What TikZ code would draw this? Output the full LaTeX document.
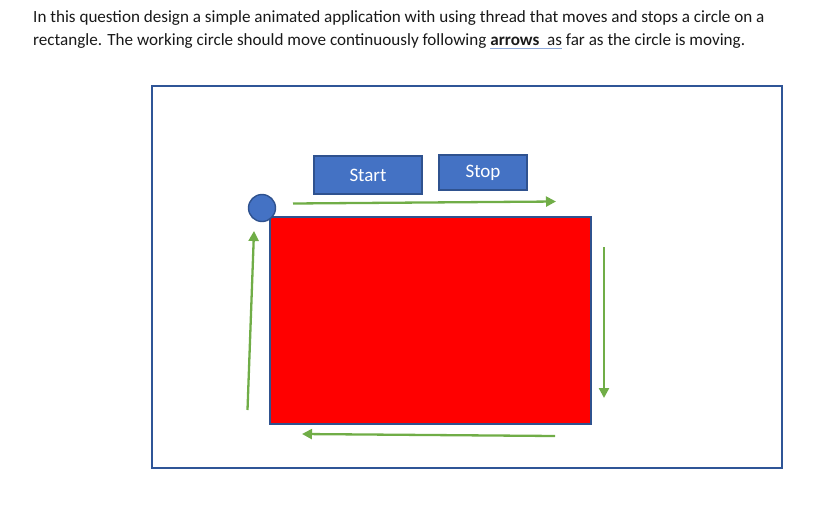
\documentclass[tikz,border=0pt]{standalone}
\usepackage{fontspec}
\setmainfont{Carlito}
\usetikzlibrary{arrows.meta}
\definecolor{frameblue}{HTML}{2F5597}
\definecolor{btnfill}{HTML}{4472C4}
\definecolor{btnedge}{HTML}{2F528F}
\definecolor{arrowgreen}{HTML}{70AD47}
\definecolor{ulblue}{HTML}{8EA9DB}
\newcommand\blueul[1]{\setbox0\hbox{#1}\rlap{\color{ulblue}\vrule width\wd0 height -2.6pt depth 4.4pt}\box0\relax}
\tikzset{
  headtext/.style={anchor=base west, inner sep=0pt, font=\fontsize{17.1}{20}\selectfont, text=black!90},
  button/.style={draw=btnedge, line width=1.4pt, fill=btnfill, text=white, font=\fontsize{19}{22}\selectfont, inner sep=0pt},
  flow/.style={draw=arrowgreen, line width=2.3pt, -{Triangle[length=10pt,width=10pt]}},
}
\begin{document}
\begin{tikzpicture}[x=1pt,y=-1pt]
\useasboundingbox (0,0) rectangle (838,525);
\node[headtext] (l1) at (33,22) {In this question design a simple animated application with using thread that moves and stops a circle on a};
\node[headtext] (l2) at (33,45) {rectangle. The working circle should move continuously following \blueul{\textbf{arrows}\ \ as} far as the circle is moving.};
\node[draw=frameblue, line width=1.6pt, minimum width=630pt, minimum height=382pt, inner sep=0pt] (frame) at (467,277) {};
\node[button, minimum width=108pt, minimum height=38pt] (start) at (368,175) {Start};
\node[button, minimum width=88pt, minimum height=35pt] (stop) at (483,172.5) {Stop};
\node[draw=btnedge, line width=1.4pt, fill=red, minimum width=321pt, minimum height=207pt, inner sep=0pt] (rect) at (430.5,320.5) {};
\node[circle, draw=btnedge, line width=1.4pt, fill=btnfill, minimum size=27pt, inner sep=0pt] (ball) at (262,208) {};
\coordinate (t1) at (293,203.5); \coordinate (t2) at (556,201.5);
\coordinate (r1) at (604,247); \coordinate (r2) at (604,398);
\coordinate (b1) at (555,436); \coordinate (b2) at (302,434);
\coordinate (q1) at (247.5,410); \coordinate (q2) at (254,231);
\draw[flow] (t1) -- (t2);
\draw[flow] (r1) -- (r2);
\draw[flow] (b1) -- (b2);
\draw[flow] (q1) -- (q2);
\end{tikzpicture}
\end{document}
